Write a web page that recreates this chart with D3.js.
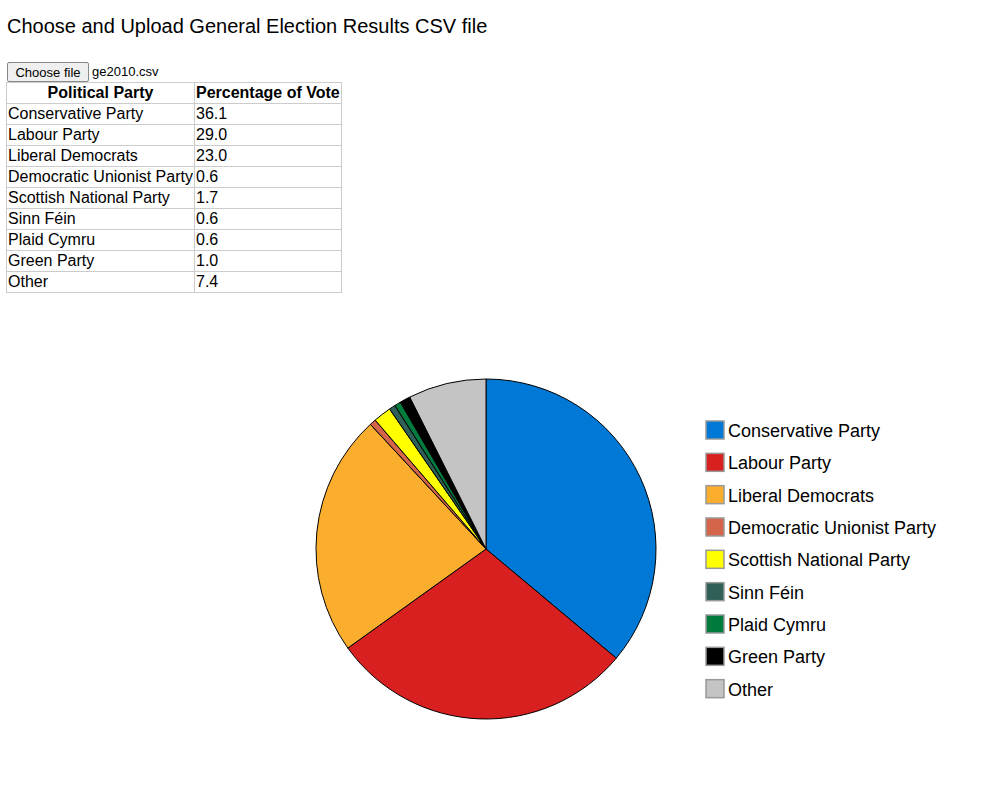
<!DOCTYPE html>
<html>
<head>
<meta charset="utf-8">
<script src="https://cdn.jsdelivr.net/npm/d3@7"></script>
<style>
  body { margin: 0; font-family: "Liberation Sans", Arial, Helvetica, sans-serif; background: #fff; }
  #title { position: absolute; left: 7px; top: 14px; font-size: 20px; line-height: 24px; color: #000; }
  #upload { position: absolute; left: 7px; top: 62px; font-size: 13px; }
  #upload button { font-family: inherit; font-size: 13px; height: 20px; width: 82px; padding: 0; margin: 0;
    background: #efefef; border: 1px solid #888; border-radius: 2px; vertical-align: top; }
  #upload span { display: inline-block; margin-left: 3px; line-height: 20px; vertical-align: top; }
  table { position: absolute; left: 6px; top: 82px; border-collapse: collapse; font-size: 16px; white-space: nowrap; }
  th, td { border: 1px solid #ccc; padding: 0 1px; height: 20px; line-height: 18px; }
  th { font-weight: bold; }
  td:first-child { width: 185px; }
  td:last-child { width: 143px; }
  #chart { position: absolute; left: 0; top: 0; }
</style>
</head>
<body>
<div id="title">Choose and Upload General Election Results CSV file</div>
<div id="upload"><button>Choose file</button><span>ge2010.csv</span></div>
<table id="results"></table>
<svg id="chart" width="987" height="789"></svg>
<script>
var parties = ['Conservative Party', 'Labour Party', 'Liberal Democrats', 'Democratic Unionist Party',
  'Scottish National Party', 'Sinn Féin', 'Plaid Cymru', 'Green Party', 'Other'];
var votes = [36.1, 29.0, 23.0, 0.6, 1.7, 0.6, 0.6, 1.0, 7.4];
var partyColors = ['#0079d6', '#d82020', '#fbae2e', '#d4644a', '#ffff00', '#2f5f57', '#007a3d', '#000000', '#c4c4c4'];
var headers = ['Political Party', 'Percentage of Vote'];

var data = parties.map(function(p, i) { return {party: p, vote: votes[i]}; });

// table
var table = d3.select('#results');
table.append('tr').selectAll('th')
  .data(headers).enter().append('th').text(function(d) { return d; });
var rows = table.selectAll('tr.row').data(data).enter().append('tr').attr('class', 'row');
rows.append('td').text(function(d) { return d.party; });
rows.append('td').text(function(d) { return d.vote.toFixed(1); });

// pie
var cx = 486, cy = 549, radius = 170;
var color = d3.scaleOrdinal().domain(parties).range(partyColors);
var svg = d3.select('#chart');
var pie = d3.pie().sort(null).value(function(d) { return d.vote; });
var arc = d3.arc().innerRadius(0).outerRadius(radius);

svg.append('g')
  .attr('transform', 'translate(' + cx + ',' + cy + ')')
  .selectAll('path')
  .data(pie(data))
  .enter()
  .append('path')
  .attr('d', arc)
  .attr('fill', function(d) { return color(d.data.party); })
  .attr('stroke', '#000')
  .attr('stroke-width', 1);

// legend
var legendY = d3.scaleBand().domain(parties).range([416, 707]);
var legend = svg.append('g').selectAll('g')
  .data(parties)
  .enter()
  .append('g')
  .attr('transform', function(d) { return 'translate(706,' + (legendY(d) + 5) + ')'; });

legend.append('rect')
  .attr('width', 18)
  .attr('height', 18)
  .attr('fill', function(d) { return color(d); })
  .attr('stroke', '#999')
  .attr('stroke-width', 1.5);

legend.append('text')
  .attr('x', 22)
  .attr('y', 16)
  .attr('font-size', 18)
  .attr('font-family', '"Liberation Sans", Arial, sans-serif')
  .text(function(d) { return d; });
</script>
</body>
</html>
